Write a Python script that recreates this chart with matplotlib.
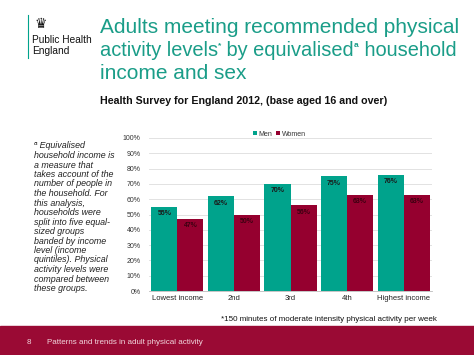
import matplotlib.pyplot as plt
import numpy as np
from matplotlib.patches import Rectangle

# data
groups = ['Lowest income', '2nd', '3rd', '4th', 'Highest income']
men = [55, 62, 70, 75, 76]
women = [47, 50, 56, 63, 63]
series_names = ['Men', 'Women']

teal = '#00a38c'
wine = '#95002f'

plt.rcParams['font.family'] = ['Liberation Sans', 'DejaVu Sans']

fig = plt.figure(figsize=(4.74, 3.55), dpi=100)
W, H = 474, 355

def fx(px):
    return px / W

def fy(py):
    return 1 - py / H

# chart
ax = fig.add_axes([fx(149), fy(291), fx(432) - fx(149), fy(138) - fy(291)])
x = np.arange(len(groups))
bw = 0.46
b1 = ax.bar(x - bw / 2, men, bw, color=teal, label=series_names[0], zorder=3)
b2 = ax.bar(x + bw / 2, women, bw, color=wine, label=series_names[1], zorder=3)

for bars, col in ((b1, '#1a1a1a'), (b2, '#3a0010')):
    for r in bars:
        ax.text(r.get_x() + r.get_width() / 2, r.get_height() - 2.2,
                f'{int(r.get_height())}%', ha='center', va='top',
                fontsize=5, fontweight='bold', color=col, zorder=4)

ax.set_ylim(0, 100)
ax.set_xlim(-0.5, len(groups) - 0.5)
ax.set_yticks(range(0, 101, 10))
ax.set_yticklabels([f'{v}%' for v in range(0, 101, 10)])
ax.set_xticks(x)
ax.set_xticklabels(groups)
ax.tick_params(axis='y', length=0, labelsize=5, colors='#333333', pad=6)
ax.tick_params(axis='x', length=0, labelsize=5.5, colors='#222222', pad=3)
ax.grid(axis='y', color='#dddddd', linewidth=0.6, zorder=0)
for s in ('top', 'right', 'left'):
    ax.spines[s].set_visible(False)
ax.spines['bottom'].set_color('#bbbbbb')
ax.spines['bottom'].set_linewidth(0.6)

ax.legend(loc='lower center', bbox_to_anchor=(0.46, 0.985), ncol=2, frameon=False,
          fontsize=5, handlelength=0.6, handleheight=0.6, handletextpad=0.2,
          columnspacing=0.6, borderaxespad=0, labelcolor='#333333')

# logo
fig.add_artist(plt.Line2D([fx(28), fx(28)], [fy(15), fy(58)], color=teal, linewidth=0.8))
fig.text(fx(41), fy(24), '\u265b', fontsize=10, color='#111111', ha='center', va='center',
         family=['DejaVu Sans'])
fig.text(fx(32), fy(43), 'Public Health', fontsize=7.3, color='#111111', va='baseline')
fig.text(fx(32), fy(54), 'England', fontsize=7.3, color='#111111', va='baseline')

# title, built piece by piece so the small superscripts sit right
tcol = '#1a9d88'
renderer = fig.canvas.get_renderer()

def run_line(parts, y, size):
    xpos = fx(100)
    for txt, sup in parts:
        t = fig.text(xpos, fy(y - (9 if sup else 0)), txt,
                     fontsize=6 if sup else size, color=tcol, va='baseline',
                     fontweight='bold' if sup else 'normal')
        bb = t.get_window_extent(renderer=renderer)
        xpos += bb.width / W

run_line([('Adults meeting recommended physical', False)], 33, 15.0)
run_line([('activity levels', False), ('*', True), (' by equivalised', False),
          ('a', True), (' household', False)], 56, 14.4)
run_line([('income and sex', False)], 79, 15.0)

fig.text(fx(100), fy(104), 'Health Survey for England 2012, (base aged 16 and over)',
         fontsize=7.7, fontweight='bold', color='#111111', va='baseline')

note = ['\u1d43 Equivalised', 'household income is', 'a measure that',
        'takes account of the', 'number of people in', 'the household. For',
        'this analysis,', 'households were', 'split into five equal-',
        'sized groups', 'banded by income', 'level (income',
        'quintiles). Physical', 'activity levels were', 'compared between',
        'these groups.']
for i, line in enumerate(note):
    fig.text(fx(34), fy(146 + i * 9.5), line, fontsize=6.4, style='italic',
             color='#222222', va='center')

fig.text(fx(437), fy(321), '*150 minutes of moderate intensity physical activity per week',
         fontsize=5.8, color='#111111', ha='right', va='baseline')

# footer band
fig.add_artist(Rectangle((0, 0), 1, fy(326), transform=fig.transFigure,
                         color='#9a0a34', zorder=0))
fig.text(fx(27), fy(344), '8', fontsize=5.8, color='#f2d7de', va='baseline')
fig.text(fx(47), fy(344), 'Patterns and trends in adult physical activity', fontsize=5.8,
         color='#f2d7de', va='baseline')

fig.savefig('out.png', dpi=100)
